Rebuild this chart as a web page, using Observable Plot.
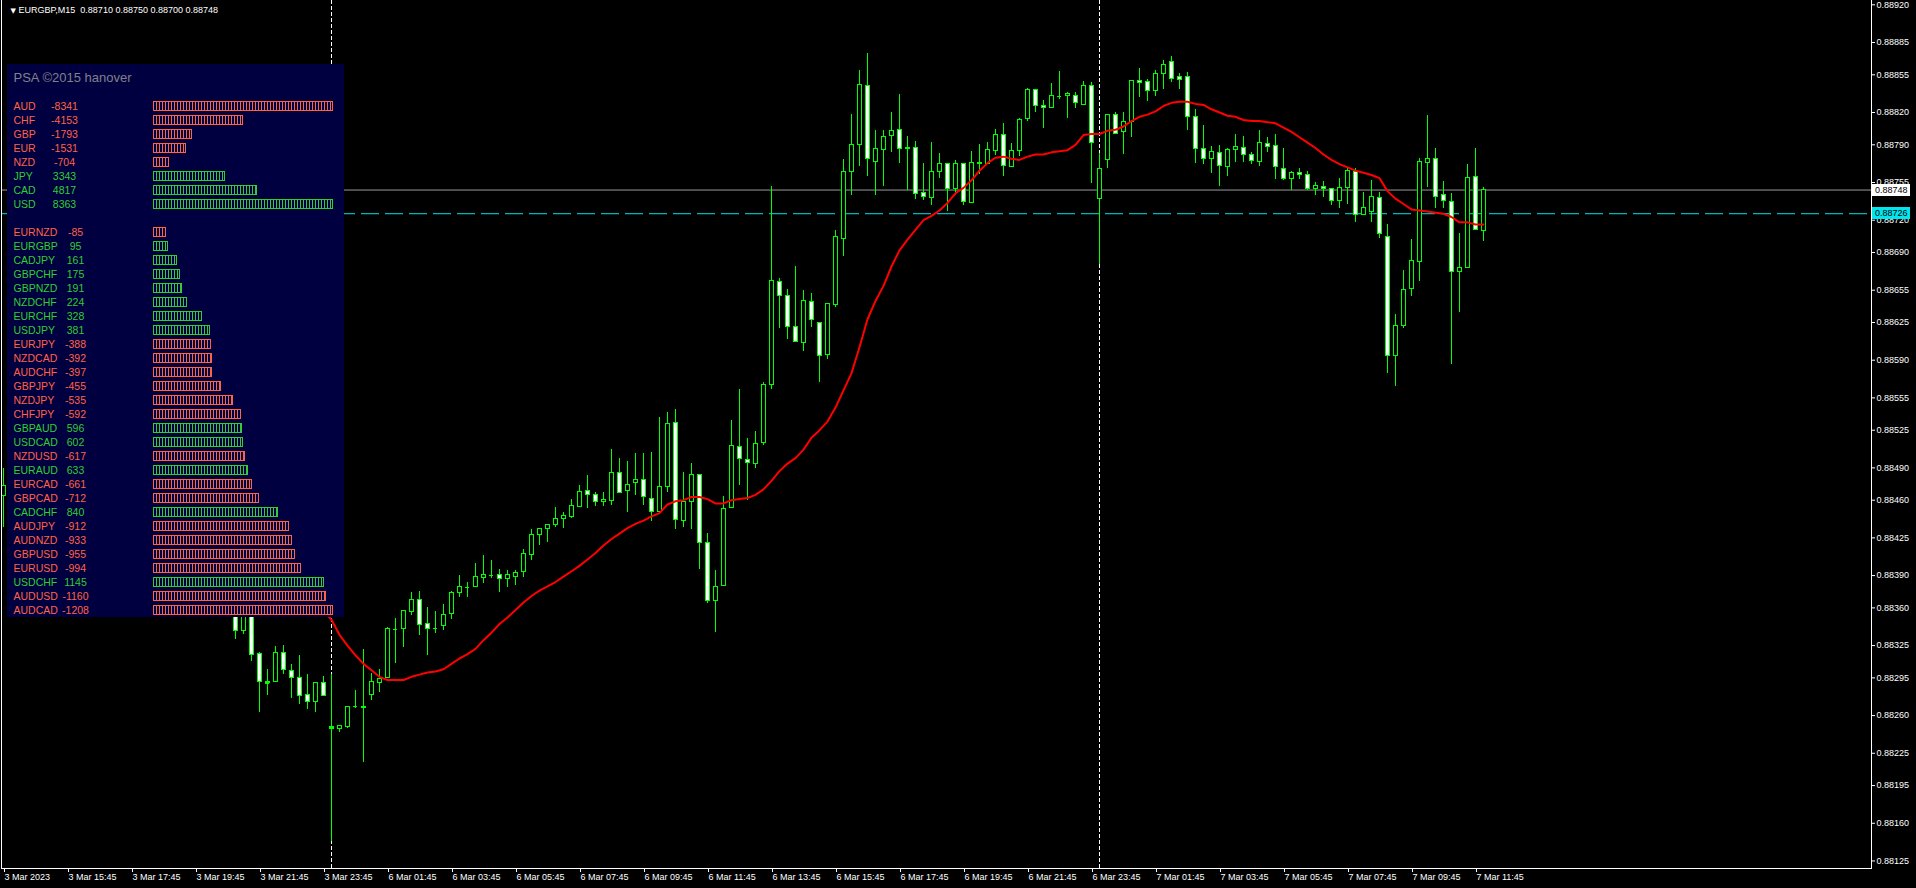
<!DOCTYPE html>
<html>
<head>
<meta charset="utf-8">
<script src="https://cdn.jsdelivr.net/npm/d3@7"></script>
<script src="https://cdn.jsdelivr.net/npm/@observablehq/plot@0.6"></script>
<style>
  html, body { margin: 0; padding: 0; background: #000; overflow: hidden; }
  #wrap { position: relative; width: 1916px; height: 888px; background: #000; }
  #panel { position: absolute; left: 7px; top: 64px; }
  svg { display: block; }
</style>
</head>
<body>
<div id="wrap"><div id="chart"></div><div id="panel"></div></div>
<script>
// ---------------- DATA ----------------
const symbolTitle = "EURGBP,M15  0.88710 0.88750 0.88700 0.88748";

// EURGBP M15 bars, 3 Mar 2023 13:45 .. 7 Mar 2023 12:00
const opens = [0.88464,0.88473,0.88467,0.88457,0.88468,0.88481,0.88471,0.88449,0.88458,0.88452,
 0.88461,0.88475,0.88466,0.88441,0.88449,0.88462,0.88455,0.88433,0.88423,0.88431,
 0.88444,0.88434,0.88416,0.88424,0.88418,0.88401,0.88408,0.88398,0.88384,0.88376,
 0.88339,0.88368,0.88317,0.88291,0.88291,0.88318,0.88301,0.88295,0.88279,0.88273,
 0.88290,0.88248,0.88248,0.88249,0.88268,0.88267,0.88279,0.88290,0.88295,0.88340,
 0.88340,0.88356,0.88367,0.88345,0.88341,0.88343,0.88354,0.88374,0.88379,0.88379,
 0.88388,0.88390,0.88391,0.88387,0.88389,0.88393,0.88409,0.88428,0.88433,0.88437,
 0.88443,0.88444,0.88454,0.88469,0.88465,0.88458,0.88459,0.88485,0.88469,0.88476,
 0.88479,0.88461,0.88449,0.88472,0.88532,0.88441,0.88458,0.88483,0.88420,0.88366,
 0.88380,0.88453,0.88509,0.88497,0.88494,0.88513,0.88567,0.88663,0.88650,0.88621,
 0.88606,0.88644,0.88625,0.88595,0.88641,0.88703,0.88765,0.88790,0.88845,0.88774,
 0.88785,0.88798,0.88804,0.88786,0.88787,0.88745,0.88741,0.88765,0.88772,0.88749,
 0.88772,0.88736,0.88772,0.88772,0.88784,0.88799,0.88769,0.88784,0.88814,0.88841,
 0.88826,0.88824,0.88835,0.88835,0.88835,0.88827,0.88845,0.88740,0.88776,0.88818,
 0.88802,0.88811,0.88849,0.88848,0.88840,0.88856,0.88867,0.88853,0.88853,0.88816,
 0.88786,0.88777,0.88782,0.88769,0.88785,0.88787,0.88781,0.88774,0.88791,0.88789,
 0.88768,0.88758,0.88764,0.88762,0.88749,0.88751,0.88749,0.88738,0.88750,0.88765,
 0.88725,0.88728,0.88741,0.88704,0.88594,0.88622,0.88656,0.88681,0.88773,0.88777,
 0.88743,0.88737,0.88672,0.88676,0.88760,0.88710];

const highs = [0.88489,0.88485,0.88477,0.88472,0.88487,0.88492,0.88477,0.88463,0.88469,0.88465,
 0.88482,0.88486,0.88471,0.88455,0.88467,0.88475,0.88460,0.88444,0.88437,0.88449,
 0.88455,0.88442,0.88430,0.88437,0.88427,0.88414,0.88421,0.88407,0.88394,0.88382,
 0.88374,0.88376,0.88319,0.88303,0.88324,0.88325,0.88307,0.88316,0.88298,0.88291,
 0.88296,0.88298,0.88250,0.88268,0.88283,0.88321,0.88299,0.88303,0.88342,0.88350,
 0.88358,0.88374,0.88375,0.88360,0.88357,0.88363,0.88375,0.88390,0.88384,0.88401,
 0.88409,0.88404,0.88396,0.88395,0.88395,0.88414,0.88433,0.88434,0.88437,0.88453,
 0.88449,0.88461,0.88474,0.88483,0.88467,0.88467,0.88507,0.88499,0.88496,0.88503,
 0.88503,0.88504,0.88537,0.88541,0.88544,0.88486,0.88494,0.88483,0.88429,0.88395,
 0.88463,0.88534,0.88563,0.88517,0.88524,0.88569,0.88751,0.88666,0.88656,0.88677,
 0.88655,0.88652,0.88625,0.88643,0.88710,0.88776,0.88818,0.88859,0.88875,0.88803,
 0.88803,0.88820,0.88837,0.88798,0.88793,0.88773,0.88792,0.88782,0.88772,0.88775,
 0.88772,0.88784,0.88790,0.88792,0.88804,0.88810,0.88791,0.88814,0.88842,0.88841,
 0.88831,0.88847,0.88858,0.88839,0.88839,0.88849,0.88848,0.88782,0.88818,0.88820,
 0.88820,0.88850,0.88861,0.88851,0.88859,0.88868,0.88872,0.88856,0.88857,0.88823,
 0.88808,0.88788,0.88789,0.88787,0.88800,0.88798,0.88783,0.88803,0.88797,0.88800,
 0.88787,0.88765,0.88768,0.88765,0.88755,0.88756,0.88749,0.88759,0.88768,0.88768,
 0.88746,0.88757,0.88746,0.88716,0.88632,0.88673,0.88702,0.88777,0.88817,0.88787,
 0.88756,0.88745,0.88708,0.88772,0.88787,0.88750];

const lows = [0.88435,0.88459,0.88452,0.88449,0.88463,0.88467,0.88445,0.88437,0.88447,0.88443,
 0.88455,0.88462,0.88437,0.88433,0.88445,0.88449,0.88426,0.88416,0.88414,0.88425,
 0.88428,0.88411,0.88406,0.88414,0.88396,0.88392,0.88394,0.88378,0.88370,0.88331,
 0.88335,0.88310,0.88263,0.88279,0.88291,0.88298,0.88276,0.88270,0.88266,0.88263,
 0.88278,0.88143,0.88244,0.88248,0.88267,0.88216,0.88274,0.88281,0.88295,0.88308,
 0.88323,0.88353,0.88334,0.88316,0.88336,0.88339,0.88349,0.88370,0.88370,0.88379,
 0.88383,0.88387,0.88374,0.88379,0.88381,0.88388,0.88404,0.88418,0.88421,0.88435,
 0.88434,0.88443,0.88454,0.88452,0.88454,0.88454,0.88455,0.88467,0.88449,0.88464,
 0.88455,0.88440,0.88447,0.88467,0.88433,0.88435,0.88433,0.88396,0.88364,0.88337,
 0.88380,0.88453,0.88474,0.88460,0.88489,0.88511,0.88563,0.88619,0.88609,0.88607,
 0.88598,0.88620,0.88569,0.88591,0.88639,0.88686,0.88743,0.88770,0.88761,0.88743,
 0.88751,0.88783,0.88773,0.88748,0.88739,0.88738,0.88734,0.88759,0.88728,0.88745,
 0.88734,0.88736,0.88762,0.88772,0.88780,0.88761,0.88769,0.88779,0.88812,0.88820,
 0.88805,0.88824,0.88832,0.88814,0.88824,0.88827,0.88754,0.88679,0.88768,0.88800,
 0.88781,0.88797,0.88834,0.88830,0.88835,0.88841,0.88848,0.88841,0.88803,0.88773,
 0.88772,0.88763,0.88751,0.88761,0.88774,0.88774,0.88772,0.88770,0.88783,0.88758,
 0.88757,0.88748,0.88758,0.88748,0.88743,0.88741,0.88734,0.88731,0.88735,0.88718,
 0.88724,0.88718,0.88703,0.88578,0.88566,0.88619,0.88649,0.88663,0.88750,0.88731,
 0.88731,0.88586,0.88634,0.88676,0.88711,0.88700];

const closes = [0.88473,0.88467,0.88457,0.88468,0.88481,0.88471,0.88449,0.88458,0.88452,0.88461,
 0.88475,0.88466,0.88441,0.88449,0.88462,0.88455,0.88433,0.88423,0.88431,0.88444,
 0.88434,0.88416,0.88424,0.88418,0.88401,0.88408,0.88398,0.88384,0.88376,0.88339,
 0.88368,0.88316,0.88291,0.88290,0.88318,0.88302,0.88295,0.88278,0.88273,0.88290,
 0.88278,0.88249,0.88250,0.88268,0.88268,0.88268,0.88291,0.88294,0.88340,0.88340,
 0.88357,0.88367,0.88344,0.88340,0.88341,0.88353,0.88374,0.88379,0.88379,0.88389,
 0.88391,0.88390,0.88387,0.88391,0.88392,0.88410,0.88428,0.88433,0.88437,0.88443,
 0.88445,0.88455,0.88468,0.88465,0.88458,0.88460,0.88485,0.88467,0.88474,0.88479,
 0.88463,0.88449,0.88472,0.88531,0.88442,0.88458,0.88483,0.88420,0.88366,0.88379,
 0.88452,0.88510,0.88498,0.88495,0.88512,0.88567,0.88664,0.88650,0.88621,0.88607,
 0.88645,0.88627,0.88594,0.88642,0.88704,0.88765,0.88790,0.88846,0.88777,0.88786,
 0.88797,0.88803,0.88786,0.88787,0.88744,0.88742,0.88765,0.88772,0.88749,0.88772,
 0.88737,0.88773,0.88773,0.88785,0.88799,0.88770,0.88784,0.88813,0.88841,0.88826,
 0.88824,0.88835,0.88835,0.88837,0.88829,0.88845,0.88792,0.88768,0.88818,0.88800,
 0.88811,0.88849,0.88847,0.88840,0.88856,0.88864,0.88851,0.88850,0.88816,0.88786,
 0.88777,0.88783,0.88770,0.88785,0.88788,0.88781,0.88775,0.88792,0.88788,0.88769,
 0.88758,0.88764,0.88762,0.88749,0.88752,0.88749,0.88738,0.88750,0.88766,0.88725,
 0.88731,0.88742,0.88707,0.88594,0.88622,0.88655,0.88682,0.88774,0.88777,0.88742,
 0.88738,0.88672,0.88676,0.88759,0.88711,0.88748];

const maStartBar = 36;
const maValues = [0.88385,0.88379,0.88372,0.88365,0.88357,0.88349,0.88335,0.88325,0.88316,0.88308,
 0.88302,0.88296,0.88293,0.88293,0.88293,0.88296,0.88298,0.88300,0.88301,0.88303,
 0.88308,0.88313,0.88317,0.88322,0.88330,0.88337,0.88345,0.88351,0.88358,0.88365,
 0.88371,0.88376,0.88380,0.88384,0.88389,0.88394,0.88399,0.88405,0.88411,0.88418,
 0.88424,0.88429,0.88434,0.88438,0.88441,0.88445,0.88448,0.88456,0.88459,0.88460,
 0.88463,0.88463,0.88461,0.88457,0.88457,0.88460,0.88461,0.88462,0.88465,0.88470,
 0.88478,0.88487,0.88494,0.88499,0.88507,0.88518,0.88525,0.88533,0.88546,0.88562,
 0.88578,0.88602,0.88628,0.88645,0.88659,0.88677,0.88692,0.88702,0.88711,0.88720,
 0.88724,0.88729,0.88736,0.88745,0.88750,0.88757,0.88766,0.88773,0.88778,0.88779,
 0.88777,0.88776,0.88779,0.88781,0.88781,0.88783,0.88784,0.88785,0.88790,0.88799,
 0.88800,0.88800,0.88803,0.88804,0.88807,0.88812,0.88816,0.88818,0.88821,0.88826,
 0.88829,0.88830,0.88830,0.88828,0.88827,0.88823,0.88820,0.88817,0.88816,0.88813,
 0.88812,0.88812,0.88811,0.88810,0.88806,0.88802,0.88797,0.88792,0.88787,0.88781,
 0.88776,0.88772,0.88769,0.88766,0.88764,0.88762,0.88759,0.88747,0.88740,0.88735,
 0.88730,0.88729,0.88728,0.88727,0.88726,0.88723,0.88718,0.88718,0.88716,0.88716];

const bidPrice = 0.88748;
const levelLine = 0.88726;

const dayBarCounts = [41, 96, 49];   // 3 Mar, 6 Mar, 7 Mar
const barsPerTick = 8;
const xTickLabels = ["3 Mar 2023","3 Mar 15:45","3 Mar 17:45","3 Mar 19:45","3 Mar 21:45","3 Mar 23:45",
 "6 Mar 01:45","6 Mar 03:45","6 Mar 05:45","6 Mar 07:45","6 Mar 09:45","6 Mar 11:45","6 Mar 13:45",
 "6 Mar 15:45","6 Mar 17:45","6 Mar 19:45","6 Mar 21:45","6 Mar 23:45","7 Mar 01:45","7 Mar 03:45",
 "7 Mar 05:45","7 Mar 07:45","7 Mar 09:45","7 Mar 11:45"];
const yTickLabels = ["0.88920","0.88885","0.88855","0.88820","0.88790","0.88755","0.88720","0.88690",
 "0.88655","0.88625","0.88590","0.88555","0.88525","0.88490","0.88460","0.88425","0.88390","0.88360",
 "0.88325","0.88295","0.88260","0.88225","0.88195","0.88160","0.88125"];

// PSA panel
const panelTitle = "PSA \u00A92015 hanover";
const currencies = ["AUD","CHF","GBP","EUR","NZD","JPY","CAD","USD"];
const currencyStrength = [-8341,-4153,-1793,-1531,-704,3343,4817,8363];
const pairs = ["EURNZD","EURGBP","CADJPY","GBPCHF","GBPNZD","NZDCHF","EURCHF","USDJPY","EURJPY","NZDCAD",
 "AUDCHF","GBPJPY","NZDJPY","CHFJPY","GBPAUD","USDCAD","NZDUSD","EURAUD","EURCAD","GBPCAD","CADCHF",
 "AUDJPY","AUDNZD","GBPUSD","EURUSD","USDCHF","AUDUSD","AUDCAD"];
const pairStrength = [-85,95,161,175,191,224,328,381,-388,-392,-397,-455,-535,-592,596,602,-617,633,
 -661,-712,840,-912,-933,-955,-994,1145,-1160,-1208];

// ---------------- BUILD ----------------
const FONT = "'Liberation Sans', Arial, sans-serif";
const GREEN = "#00ff00";
const bars = opens.map((o, i) => ({i, open: o, high: highs[i], low: lows[i], close: closes[i]}));
const lastBar = bars.length - 1;
const maPoints = maValues.map((v, k) => ({i: maStartBar + k, ma: v}));
const dayStarts = d3.cumsum(dayBarCounts).slice(0, -1);
const xTicks = xTickLabels.map((_, k) => k * barsPerTick);
const xFmt = new Map(xTicks.map((t, k) => [t, xTickLabels[k]]));
const yTicks = yTickLabels.map(Number);
const yFmt = new Map(yTicks.map((t, k) => [t, yTickLabels[k]]));

const chart = Plot.plot({
  width: 1916, height: 888,
  marginLeft: 1, marginRight: 45, marginTop: 0, marginBottom: 20,
  style: {background: "#000", color: "#fff", fontFamily: FONT, fontSize: "9px"},
  color: {type: "identity"},
  x: {type: "linear", domain: [0, lastBar], range: [3, 3 + 8 * lastBar]},
  y: {domain: [0.88118, 0.88924], range: [868, 0]},
  marks: [
    Plot.ruleY([bidPrice], {stroke: "#9a9a9a"}),
    Plot.ruleY([levelLine], {stroke: "#00e5ee", strokeDasharray: "18,6"}),
    Plot.ruleX(dayStarts, {stroke: "#fff", strokeDasharray: "4,2"}),
    Plot.ruleX(bars, {x: "i", y1: "low", y2: "high", stroke: GREEN, shapeRendering: "crispEdges"}),
    Plot.rect(bars, {x1: d => d.i - 0.25, x2: d => d.i + 0.25, y1: "open", y2: "close",
      fill: d => d.close < d.open ? "#ffffff" : "#000000", stroke: GREEN, shapeRendering: "crispEdges"}),
    Plot.ruleY(bars.filter(d => Math.abs(d.close - d.open) < 0.000015),
      {y: "close", x1: d => d.i - 0.25, x2: d => d.i + 0.25, stroke: GREEN, shapeRendering: "crispEdges"}),
    Plot.line(maPoints, {x: "i", y: "ma", stroke: "#ff0000", strokeWidth: 2}),
    Plot.axisY({anchor: "right", ticks: yTicks, tickFormat: d => yFmt.get(d), tickSize: 3, tickPadding: 2,
      color: "#fff", fontSize: 9, label: null}),
    Plot.axisX({ticks: xTicks, tickFormat: d => xFmt.get(d), tickSize: 4, tickPadding: 1,
      textAnchor: "start", dx: 1, color: "#fff", fontSize: 9, label: null}),
    Plot.frame({anchor: "left", stroke: "#fff"}),
    Plot.frame({anchor: "bottom", stroke: "#fff"}),
    Plot.frame({anchor: "right", stroke: "#fff"}),
    Plot.text(["\u25BC"], {frameAnchor: "top-left", dx: 9, dy: 10, lineAnchor: "middle", fill: "#fff",
      fontSize: 7, fontFamily: "DejaVu Sans", text: d => d}),
    Plot.text([symbolTitle], {frameAnchor: "top-left", dx: 17, dy: 10, lineAnchor: "middle", textAnchor: "start",
      fill: "#fff", fontSize: 9, text: d => d})
  ]
});
document.getElementById("chart").appendChild(chart);

// price tags on the right axis, placed with the chart's own y scale
const ysc = chart.scale("y");
const yPix = d3.scaleLinear(ysc.domain, ysc.range);
const svgSel = d3.select(chart);
[[bidPrice, "#ffffff", "#000000"], [levelLine, "#00e5ee", "#000000"]].forEach(([p, bg, fg]) => {
  const y = Math.round(yPix(p));
  svgSel.append("rect").attr("x", 1872).attr("y", y - 6).attr("width", 38).attr("height", 12).attr("fill", bg);
  svgSel.append("text").attr("x", 1875).attr("y", y).attr("dy", "0.35em").attr("fill", fg)
    .attr("text-anchor", "start").attr("font-size", 9).attr("font-family", FONT).text(p.toFixed(5));
});

// ---------------- PSA PANEL ----------------
const RED = "#ff6347", LGREEN = "#32cd32";
const ccyMax = d3.max(currencyStrength, Math.abs);
const pairMax = d3.max(pairStrength, Math.abs);
const ccyRows = currencies.map((name, k) => ({name, value: currencyStrength[k], row: k,
  frac: Math.abs(currencyStrength[k]) / ccyMax}));
const pairRows = pairs.map((name, k) => ({name, value: pairStrength[k], row: currencies.length + 1 + k,
  frac: Math.abs(pairStrength[k]) / pairMax}));
const allRows = ccyRows.concat(pairRows);
const col = d => d.value < 0 ? RED : LGREEN;
const barY1 = d => d.row - 0.3, barY2 = d => d.row + 0.3;

const panel = Plot.plot({
  width: 337, height: 553, margin: 0,
  style: {background: "#000040", fontFamily: FONT},
  color: {type: "identity"},
  x: {domain: [0, 1], range: [146, 325.5], axis: null},
  y: {domain: [0, 36], range: [42, 546], axis: null},
  marks: [
    Plot.text([panelTitle], {frameAnchor: "top-left", dx: 6, dy: 13, lineAnchor: "middle", textAnchor: "start",
      fontSize: 13, fill: "#808088", text: d => d}),
    Plot.text(allRows, {frameAnchor: "left", y: "row", dx: 6, text: "name", fill: col, textAnchor: "start", fontSize: 10.5}),
    Plot.text(ccyRows, {frameAnchor: "left", y: "row", dx: 57, text: d => String(d.value), fill: col, textAnchor: "middle", fontSize: 10.5}),
    Plot.text(pairRows, {frameAnchor: "left", y: "row", dx: 68, text: d => String(d.value), fill: col, textAnchor: "middle", fontSize: 10.5}),
    Plot.rect(allRows.filter(d => d.value < 0), {x1: 0, x2: "frac", y1: barY1, y2: barY2,
      fill: "url(#psaRed)", stroke: RED, shapeRendering: "crispEdges"}),
    Plot.rect(allRows.filter(d => d.value >= 0), {x1: 0, x2: "frac", y1: barY1, y2: barY2,
      fill: "url(#psaGreen)", stroke: LGREEN, shapeRendering: "crispEdges"})
  ]
});
const pxs = panel.scale("x");
const defs = d3.select(panel).insert("defs", ":first-child");
[["psaRed", RED], ["psaGreen", LGREEN]].forEach(([id, c]) => {
  const pat = defs.append("pattern").attr("id", id).attr("patternUnits", "userSpaceOnUse")
    .attr("x", pxs.range[0]).attr("y", 0).attr("width", 3).attr("height", 20);
  pat.append("rect").attr("x", 0).attr("y", 0).attr("width", 1).attr("height", 20).attr("fill", c)
    .attr("shape-rendering", "crispEdges");
});
document.getElementById("panel").appendChild(panel);
</script>
</body>
</html>
